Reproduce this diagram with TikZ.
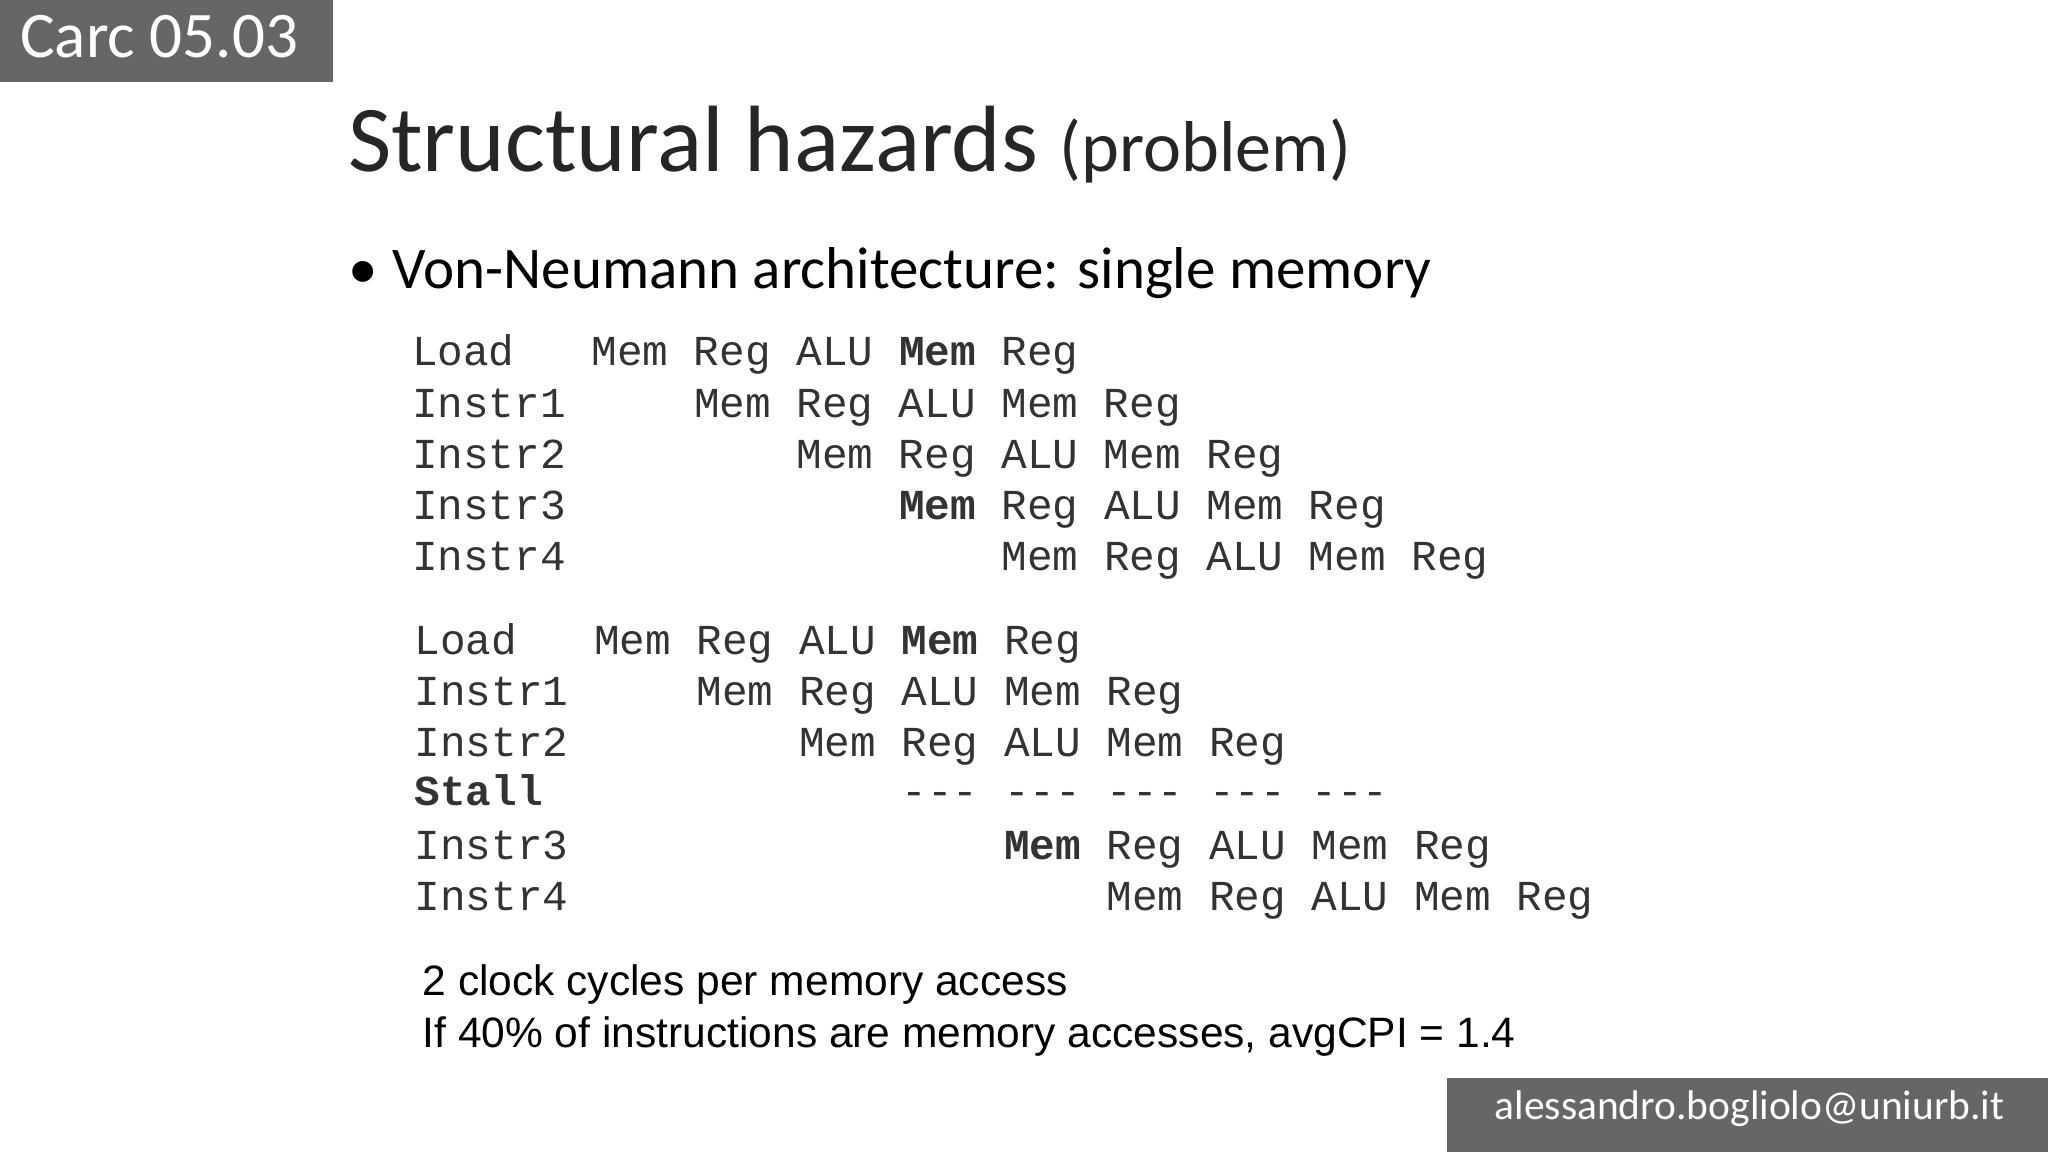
\documentclass[tikz,border=0pt]{standalone}
\usepackage{fontspec}
\setmainfont{Carlito}
\newfontfamily\monof{Liberation Mono}
\newfontfamily\arialf{Liberation Sans}
\begin{document}
\begin{tikzpicture}[x=0.013061cm,y=-0.013061cm,
  mono/.style={anchor=base west,inner sep=0pt,font=\monof\fontsize{12.15}{14}\selectfont,text=black!80},
  tag/.style={fill=black!60,draw=none}]
\useasboundingbox (0,0) rectangle (1568,882);
\fill[tag] (0,0) rectangle (255,63);
\node[anchor=west,text=white,font=\fontsize{18.5}{22}\selectfont] (tagl) at (6,28) {Carc 05.03};
\fill[tag] (1108,825) rectangle (1568,882);
\node[anchor=west,text=white,font=\fontsize{11.8}{15}\selectfont] (tagr) at (1135,849) {alessandro.bogliolo@uniurb.it};
\node[anchor=base west,inner sep=0pt,text=black!85,font=\fontsize{26.8}{32}\selectfont] (title) at (266,131) {Structural hazards {\fontsize{20.5}{24}\selectfont(problem)}};
\node[anchor=base west,inner sep=0pt,text=black,font=\fontsize{16.8}{21}\selectfont] (bul) at (266,221) {\textbullet\hspace{0.25em}Von-Neumann architecture: single memory};
% block 1
\node[mono] (a1) at (315,280) {Load~~~Mem~Reg~ALU~\textbf{Mem}~Reg};
\node[mono] (a2) at (315,320) {Instr1~~~~~Mem~Reg~ALU~Mem~Reg};
\node[mono] (a3) at (315,359) {Instr2~~~~~~~~~Mem~Reg~ALU~Mem~Reg};
\node[mono] (a4) at (315,398) {Instr3~~~~~~~~~~~~~\textbf{Mem}~Reg~ALU~Mem~Reg};
\node[mono] (a5) at (315,437) {Instr4~~~~~~~~~~~~~~~~~Mem~Reg~ALU~Mem~Reg};
% block 2
\node[mono] (b1) at (317,501) {Load~~~Mem~Reg~ALU~\textbf{Mem}~Reg};
\node[mono] (b2) at (317,540) {Instr1~~~~~Mem~Reg~ALU~Mem~Reg};
\node[mono] (b3) at (317,579) {Instr2~~~~~~~~~Mem~Reg~ALU~Mem~Reg};
\node[mono] (b4) at (317,617) {\textbf{Stall}~~~~~~~~~~~~~~{-}{-}{-}~{-}{-}{-}~{-}{-}{-}~{-}{-}{-}~{-}{-}{-}};
\node[mono] (b5) at (317,658) {Instr3~~~~~~~~~~~~~~~~~\textbf{Mem}~Reg~ALU~Mem~Reg};
\node[mono] (b6) at (317,697) {Instr4~~~~~~~~~~~~~~~~~~~~~Mem~Reg~ALU~Mem~Reg};
\node[anchor=base west,inner sep=0pt,font=\arialf\fontsize{12.1}{14}\selectfont] (n1) at (323,762) {2 clock cycles per memory access};
\node[anchor=base west,inner sep=0pt,font=\arialf\fontsize{12.1}{14}\selectfont] (n2) at (323,802) {If 40\% of instructions are memory accesses, avgCPI = 1.4};
\end{tikzpicture}
\end{document}
